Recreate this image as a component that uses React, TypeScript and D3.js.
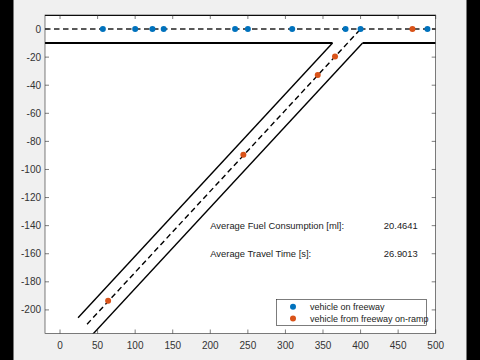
import React from "react";
import * as d3 from "d3";

const xTicks = [0, 50, 100, 150, 200, 250, 300, 350, 400, 450, 500];
const yTicks = [0, -20, -40, -60, -80, -100, -120, -140, -160, -180, -200];
const freewayX = [57, 100, 123, 138, 233, 250, 309, 380, 400, 489];
const freewayY = [0, 0, 0, 0, 0, 0, 0, 0, 0, 0];
const rampX = [469, 366, 343, 244, 64];
const rampY = [0, -19.5, -32.8, -89.5, -193.5];
// road geometry (data units)
const roadTopY = 10;
const roadEdgeY = -10;
const mergeX = 400;
const rampAngleDeg = 30;
const rampHalfW = 20; // horizontal offset of ramp edges
const rampLeftEndX = 24;
const rampCenterEndX = 36;
const rampRightEndX = 20;
const stats = [
  { label: "Average Fuel Consumption [ml]:", value: "20.4641", y: -140 },
  { label: "Average Travel Time [s]:", value: "26.9013", y: -160 },
];
const legendLabels = ["vehicle on freeway", "vehicle from freeway on-ramp"];
const colors = ["#0072BD", "#D95319"];

export default function App() {
  const W = 480, H = 360;
  const L = 45, R = 435.7, T = 15, B = 333.5;
  const x = d3.scaleLinear().domain([-20, 500]).range([L, R]);
  const y = d3.scaleLinear().domain([-216.8, 10]).range([B, T]);
  const tan = Math.tan((rampAngleDeg * Math.PI) / 180);
  const line = d3.line<[number, number]>().x(d => x(d[0])).y(d => y(d[1]));
  const leftEdgeTop = mergeX - rampHalfW + roadEdgeY / tan;
  const rightEdgeTop = mergeX + rampHalfW + roadEdgeY / tan;
  const edge = (off: number, x0: number, x1: number) =>
    line([[x0, tan * (x0 - (mergeX + off))], [x1, tan * (x1 - (mergeX + off))]]);
  const font = "Liberation Sans, Arial, sans-serif";
  const axisColor = "#262626";
  return (
    <svg width={W} height={H} style={{ position: "absolute", left: 0, top: 0 }}>
      <rect x={0} y={0} width={W} height={H} fill="#000" />
      <rect x={13.5} y={0} width={453} height={H} fill="#f0f0f0" />
      <rect x={L} y={T} width={R - L} height={B - T} fill="#fff" />
      <defs>
        <clipPath id="clip">
          <rect x={L} y={T} width={R - L} height={B - T} />
        </clipPath>
      </defs>
      <g clipPath="url(#clip)" fill="none" stroke="#000">
        <path d={line([[-20, roadTopY], [500, roadTopY]]) || ""} strokeWidth={2} />
        <path d={line([[-20, 0], [500, 0]]) || ""} strokeWidth={1.5} strokeDasharray="5.5,3.5" stroke="#222" />
        <path d={line([[-20, roadEdgeY], [leftEdgeTop, roadEdgeY]]) || ""} strokeWidth={2} />
        <path d={line([[rightEdgeTop, roadEdgeY], [500, roadEdgeY]]) || ""} strokeWidth={2} />
        <path d={edge(-rampHalfW, rampLeftEndX, leftEdgeTop) || ""} strokeWidth={1.4} />
        <path d={edge(rampHalfW, rampRightEndX, rightEdgeTop) || ""} strokeWidth={1.4} />
        <path d={edge(0, rampCenterEndX, mergeX) || ""} strokeWidth={1.4} strokeDasharray="5.5,3.5" />
      </g>
      <g clipPath="url(#clip)">
        {freewayX.map((v, i) => (
          <circle key={"f" + i} cx={x(v)} cy={y(freewayY[i])} r={3} fill={colors[0]} />
        ))}
        {rampX.map((v, i) => (
          <circle key={"r" + i} cx={x(v)} cy={y(rampY[i])} r={3} fill={colors[1]} />
        ))}
      </g>
      {/* axes box */}
      <rect x={L} y={T} width={R - L} height={B - T} fill="none" stroke={axisColor} strokeWidth={0.6} />
      <g stroke={axisColor} strokeWidth={0.6}>
        {xTicks.map(t => (
          <g key={"xt" + t}>
            <line x1={x(t)} x2={x(t)} y1={B} y2={B - 4} />
            <line x1={x(t)} x2={x(t)} y1={T} y2={T + 4} />
          </g>
        ))}
        {yTicks.map(t => (
          <g key={"yt" + t}>
            <line x1={L} x2={L + 4} y1={y(t)} y2={y(t)} />
            <line x1={R} x2={R - 4} y1={y(t)} y2={y(t)} />
          </g>
        ))}
      </g>
      <g fontFamily={font} fontSize={10} fill="#333">
        {xTicks.map(t => (
          <text key={"xl" + t} x={x(t)} y={B + 15} textAnchor="middle">{t}</text>
        ))}
        {yTicks.map(t => (
          <text key={"yl" + t} x={L - 4} y={y(t) + 3.5} textAnchor="end">{t}</text>
        ))}
      </g>
      <g fontFamily={font} fontSize={9.4} fill="#222">
        {stats.map(s => (
          <g key={s.label}>
            <text x={x(200)} y={y(s.y) + 3.5}>{s.label}</text>
            <text x={x(431)} y={y(s.y) + 3.5}>{s.value}</text>
          </g>
        ))}
      </g>
      <g>
        <rect x={276.3} y={299.3} width={150} height={26} fill="#fff" stroke={axisColor} strokeWidth={0.6} />
        {legendLabels.map((lab, i) => (
          <g key={lab}>
            <circle cx={293} cy={306.8 + i * 11.6} r={3} fill={colors[i]} />
            <text x={310} y={306.8 + i * 11.6 + 3.3} fontFamily={font} fontSize={9} fill="#222">{lab}</text>
          </g>
        ))}
      </g>
    </svg>
  );
}
